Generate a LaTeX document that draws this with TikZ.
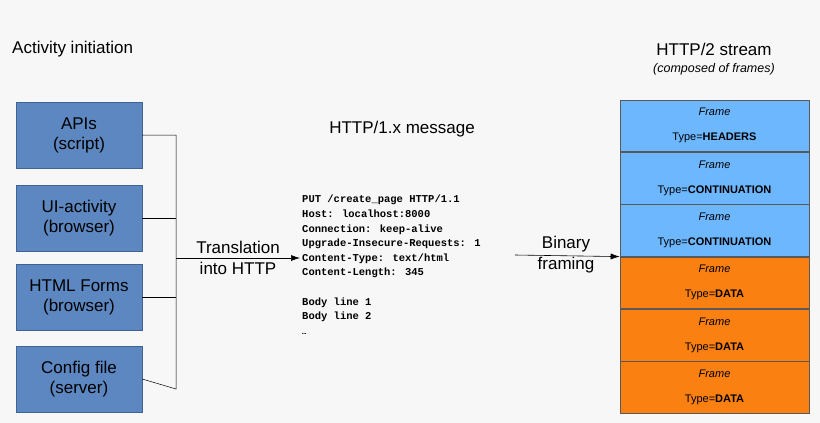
\documentclass[tikz,border=0pt]{standalone}
\usepackage{fontspec}
\setmainfont{Liberation Sans}
\newfontfamily\codefont{Liberation Mono}
\usetikzlibrary{arrows.meta}
\definecolor{boxblue}{HTML}{5C87C1}
\definecolor{boxedge}{HTML}{3F6394}
\definecolor{fblue}{HTML}{6DB7FF}
\definecolor{forange}{HTML}{FA8012}
\definecolor{bg}{HTML}{F7F7F7}
\tikzset{
 src/.style={draw=boxedge,fill=boxblue,minimum width=126pt,minimum height=66pt,align=center,font=\fontsize{17}{20}\selectfont,inner sep=0pt},
 frm/.style={draw=gray!70!black,line width=0.6pt,minimum width=189pt,minimum height=51.7pt,inner sep=0pt,align=center,font=\fontsize{11}{25}\selectfont},
 lbl/.style={font=\fontsize{17}{21}\selectfont,align=center,inner sep=0pt},
 arr/.style={-{Latex[length=9pt,width=6pt]},line width=0.6pt}
}
\begin{document}
\begin{tikzpicture}[x=1pt,y=-1pt]
\fill[bg] (0,0) rectangle (820,423);
\node[lbl,anchor=west] (t1) at (12,49) {Activity initiation};
\node[src] (a) at (79,135) {APIs\\(script)};
\node[src] (b) at (79,218) {UI-activity\\(browser)};
\node[src] (c) at (79,297) {HTML Forms\\(browser)};
\node[src] (d) at (79,379) {Config file\\(server)};
\coordinate (bt) at (176,135);
\coordinate (bb) at (176,389);
\coordinate (bm) at (176,258);
\draw[line width=0.5pt] (a.east) -- (bt) -- (bb) -- (d.east);
\draw[line width=0.5pt] (b.east) -- (b.east -| bt);
\draw[line width=0.5pt] (c.east) -- (c.east -| bt);
\node[lbl] (tr) at (238,258) {Translation\\into HTTP};
\node[lbl] (hm) at (402,129) {HTTP/1.x message};
\node[anchor=north west,inner sep=0pt,align=left,font=\codefont\bfseries\fontsize{10.5}{14.6}\selectfont] (msg) at (302,195) {PUT /create\_page HTTP/1.1\\Host: localhost:8000\\Connection: keep-alive\\Upgrade-Insecure-Requests: 1\\Content-Type: text/html\\Content-Length: 345\\[14.6pt]Body line 1\\Body line 2\\{\fontsize{7}{8}\selectfont\ldots}};
\coordinate (ms) at (300,258);
\draw[arr] (bm) -- (ms);
\node[lbl] (hs) at (714,49) {HTTP/2 stream};
\node[font=\itshape\fontsize{12.5}{15}\selectfont] (cf) at (714,69) {(composed of frames)};
\node[frm,fill=fblue] (f1) at (714.5,125.85) {\textit{Frame}\\Type=\textbf{HEADERS}};
\node[frm,fill=fblue,anchor=north] (f2) at (f1.south) {\textit{Frame}\\Type=\textbf{CONTINUATION}};
\node[frm,fill=fblue,anchor=north] (f3) at (f2.south) {\textit{Frame}\\Type=\textbf{CONTINUATION}};
\node[frm,fill=forange,anchor=north] (f4) at (f3.south) {\textit{Frame}\\Type=\textbf{DATA}};
\node[frm,fill=forange,anchor=north] (f5) at (f4.south) {\textit{Frame}\\Type=\textbf{DATA}};
\node[frm,fill=forange,anchor=north] (f6) at (f5.south) {\textit{Frame}\\Type=\textbf{DATA}};
\coordinate (bs) at (515,255);
\draw[arr] (bs) -- (f3.south west);
\node[lbl] (bf) at (566,255) {Binary\\framing};
\end{tikzpicture}
\end{document}
